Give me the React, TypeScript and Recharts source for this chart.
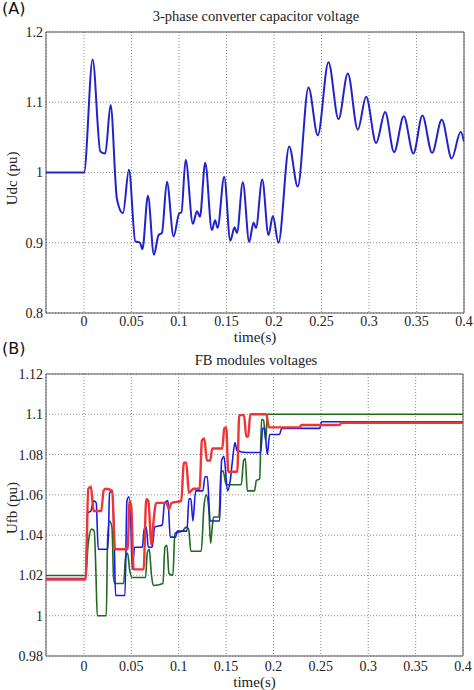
import React from "react";
import {
  LineChart,
  Line,
  XAxis,
  YAxis,
  CartesianGrid,
  ReferenceArea,
} from "recharts";

// time ticks shared by both panels
const timeTicks = [0, 0.05, 0.1, 0.15, 0.2, 0.25, 0.3, 0.35, 0.4];

// (A) 3-phase converter capacitor voltage
const udcTicks = [0.8, 0.9, 1, 1.1, 1.2];
const udcTime = [
  -0.04, 0, 0.0091, 0.0172, 0.0224, 0.028, 0.0347, 0.041, 0.0473, 0.054, 0.059,
  0.0615, 0.0673, 0.0736, 0.0785, 0.082, 0.0873, 0.0943, 0.1003, 0.1025, 0.107,
  0.1146, 0.1189, 0.122, 0.1276, 0.1346, 0.138, 0.1406, 0.1476, 0.154, 0.1585,
  0.161, 0.1672, 0.1739, 0.1785, 0.181, 0.1876, 0.1942, 0.1988, 0.2047, 0.216,
  0.225, 0.2363, 0.2461, 0.2573, 0.2679, 0.2777, 0.2882, 0.297, 0.3075, 0.317,
  0.3264, 0.3366, 0.3467, 0.3562, 0.3664, 0.3766, 0.3871, 0.3965, 0.4,
];
const udcValue = [
  1.0, 1.0, 1.161, 1.03, 1.027, 1.096, 0.962, 0.942, 1.004, 0.902, 0.9, 0.891,
  0.967, 0.883, 0.911, 0.914, 0.987, 0.909, 0.942, 0.943, 1.018, 0.927, 0.945,
  0.937, 1.014, 0.918, 0.932, 0.921, 0.994, 0.903, 0.922, 0.914, 0.986, 0.901,
  0.929, 0.921, 0.99, 0.911, 0.938, 0.9, 1.037, 0.98, 1.121, 1.053, 1.157, 1.076,
  1.141, 1.061, 1.108, 1.042, 1.086, 1.029, 1.08, 1.027, 1.081, 1.028, 1.075,
  1.02, 1.058, 1.044,
];

// (B) FB modules voltages
const ufbTicks = [0.98, 1, 1.02, 1.04, 1.06, 1.08, 1.1, 1.12];
const greenTime = [
  -0.04, 0.0018, 0.0046, 0.0081, 0.0109, 0.0127, 0.0141, 0.0236, 0.025, 0.0271,
  0.0296, 0.0313, 0.0327, 0.0419, 0.044, 0.0461, 0.0482, 0.0507, 0.0651, 0.0668,
  0.069, 0.0711, 0.0732, 0.0834, 0.0855, 0.0876, 0.0897, 0.0939, 0.096, 0.1038,
  0.108, 0.1105, 0.1129, 0.1238, 0.1266, 0.1291, 0.1316, 0.1337, 0.1354, 0.1368,
  0.1425, 0.1446, 0.1467, 0.1502, 0.166, 0.1685, 0.1703, 0.1724, 0.1801, 0.1819,
  0.1854, 0.1875, 0.1896, 0.1917, 0.1938, 0.4,
];
const greenValue = [
  1.02, 1.02, 1.036, 1.043, 1.042, 1.021, 1.0, 1.0, 1.038, 1.047, 1.044, 1.019,
  1.016, 1.016, 1.029, 1.031, 1.023, 1.019, 1.019, 1.031, 1.033, 1.021, 1.015,
  1.016, 1.034, 1.035, 1.021, 1.02, 1.041, 1.042, 1.044, 1.043, 1.032, 1.032,
  1.054, 1.06, 1.054, 1.036, 1.044, 1.049, 1.049, 1.071, 1.072, 1.065, 1.065,
  1.077, 1.078, 1.062, 1.062, 1.067, 1.068, 1.0975, 1.097, 1.087, 1.1, 1.1,
];
const blueTime = [
  -0.04, 0.0018, 0.0039, 0.0074, 0.0102, 0.013, 0.0151, 0.0253, 0.0271, 0.0299,
  0.032, 0.0334, 0.0433, 0.0454, 0.0475, 0.0496, 0.051, 0.0535, 0.0616, 0.0637,
  0.0658, 0.0679, 0.0721, 0.0746, 0.0827, 0.0851, 0.0887, 0.0911, 0.0967, 0.0985,
  0.1087, 0.1108, 0.1129, 0.115, 0.1179, 0.1256, 0.1277, 0.1302, 0.1333, 0.1432,
  0.1453, 0.1478, 0.1516, 0.1544, 0.1565, 0.1594, 0.1615, 0.1713, 0.1865, 0.1886,
  0.1907, 0.1935, 0.196, 0.2065, 0.2086, 0.2487, 0.2508, 0.4,
];
const blueValue = [
  1.0185, 1.0185, 1.051, 1.052, 1.057, 1.056, 1.033, 1.033, 1.061, 1.062, 1.038,
  1.01, 1.01, 1.057, 1.059, 1.044, 1.023, 1.034, 1.034, 1.043, 1.044, 1.034,
  1.034, 1.044, 1.045, 1.056, 1.057, 1.039, 1.039, 1.042, 1.042, 1.058, 1.058,
  1.047, 1.062, 1.062, 1.069, 1.069, 1.047, 1.047, 1.077, 1.079, 1.062, 1.067,
  1.076, 1.086, 1.082, 1.081, 1.081, 1.093, 1.093, 1.08, 1.09, 1.09, 1.093,
  1.093, 1.0963, 1.0963,
];
const redTime = [
  -0.04, 0.0018, 0.0046, 0.0074, 0.0102, 0.0183, 0.0208, 0.0229, 0.0299, 0.0327,
  0.0461, 0.0482, 0.05, 0.0524, 0.063, 0.0658, 0.0679, 0.0714, 0.0735, 0.0763,
  0.0869, 0.0897, 0.0925, 0.1027, 0.1055, 0.108, 0.1108, 0.1157, 0.1221, 0.1245,
  0.127, 0.1298, 0.1333, 0.1354, 0.146, 0.1481, 0.1502, 0.1523, 0.1618, 0.1639,
  0.1689, 0.1713, 0.1734, 0.1755, 0.1924, 0.1952, 0.2276, 0.2294, 0.2698, 0.2719,
  0.4,
];
const redValue = [
  1.018, 1.018, 1.063, 1.064, 1.052, 1.052, 1.062, 1.063, 1.062, 1.033, 1.033,
  1.057, 1.054, 1.023, 1.023, 1.058, 1.057, 1.035, 1.047, 1.056, 1.056, 1.053,
  1.056, 1.057, 1.076, 1.076, 1.061, 1.063, 1.063, 1.087, 1.088, 1.077, 1.077,
  1.083, 1.083, 1.093, 1.0935, 1.0715, 1.0715, 1.0996, 1.0996, 1.089, 1.089, 1.1,
  1.1, 1.0935, 1.0935, 1.0947, 1.0947, 1.0958, 1.0958,
];

const zip = (t: number[], v: number[]) => t.map((x, i) => ({ t: x, v: v[i] }));

const serif = "Liberation Serif, DejaVu Serif, serif";
const tickStyle = { fontFamily: serif, fontSize: 14, fill: "#222" };
const fmt = (n: number) => String(n);

// rotated y-axis title
const yTitle = (txt: string, shift: number) => (props: any) => {
  const vb = props.viewBox || { y: 0, height: 0 };
  const cx = 12;
  const cy = vb.y + vb.height / 2 + shift;
  return (
    <text
      x={cx}
      y={cy}
      transform={`rotate(-90 ${cx} ${cy})`}
      textAnchor="middle"
      dominantBaseline="central"
      fontFamily={serif}
      fontSize={15}
      fill="#222"
    >
      {txt}
    </text>
  );
};

const panelTag: React.CSSProperties = {
  position: "absolute",
  left: 2,
  fontFamily: "'DejaVu Sans', sans-serif",
  fontSize: 16,
  color: "#111",
  lineHeight: "18px",
};
const titleStyle: React.CSSProperties = {
  position: "absolute",
  left: 46,
  width: 420,
  textAlign: "center",
  fontFamily: serif,
  fontSize: 14.5,
  color: "#222",
  lineHeight: "16px",
};

const App = () => {
  return (
    <div
      style={{
        position: "absolute",
        left: 0,
        top: 0,
        width: 474,
        height: 690,
        background: "#fff",
        overflow: "hidden",
      }}
    >
      {/* panel A */}
      <div style={{ position: "absolute", left: 0, top: 0 }}>
        <LineChart width={474} height={350} margin={{ top: 32, right: 10, left: 0, bottom: 0 }}>
          <CartesianGrid stroke="#8a8a8a" strokeDasharray="1 2" />
          <XAxis
            dataKey="t"
            type="number"
            domain={[-0.04, 0.4]}
            ticks={timeTicks}
            tickFormatter={fmt}
            allowDataOverflow
            height={37}
            tickLine={false}
            axisLine={false}
            tickSize={0}
            tickMargin={3}
            tick={tickStyle}
            label={{ value: "time(s)", position: "insideBottom", offset: 8, fontFamily: serif, fontSize: 15, fill: "#222" }}
          />
          <YAxis
            type="number"
            domain={[0.8, 1.2]}
            ticks={udcTicks}
            tickFormatter={fmt}
            allowDataOverflow
            width={46}
            tickLine={false}
            axisLine={false}
            tickSize={0}
            tickMargin={3}
            tick={tickStyle}
            label={{ content: yTitle("Udc (pu)", 6) }}
          />
          <ReferenceArea x1={-0.04} x2={0.4} y1={0.8} y2={1.2} fill="none" stroke="#555" strokeWidth={1} />
          <Line
            data={zip(udcTime, udcValue)}
            dataKey="v"
            type="monotone"
            stroke="#2222cc"
            strokeWidth={2}
            dot={false}
            isAnimationActive={false}
          />
        </LineChart>
      </div>

      {/* panel B */}
      <div style={{ position: "absolute", left: 0, top: 340 }}>
        <LineChart width={474} height={350} margin={{ top: 34, right: 11, left: 0, bottom: 0 }}>
          <CartesianGrid stroke="#8a8a8a" strokeDasharray="1 2" />
          <XAxis
            dataKey="t"
            type="number"
            domain={[-0.04, 0.4]}
            ticks={timeTicks}
            tickFormatter={fmt}
            allowDataOverflow
            height={34}
            tickLine={false}
            axisLine={false}
            tickSize={0}
            tickMargin={5}
            tick={tickStyle}
            label={{ value: "time(s)", position: "insideBottom", offset: 3, fontFamily: serif, fontSize: 15, fill: "#222" }}
          />
          <YAxis
            type="number"
            domain={[0.98, 1.12]}
            ticks={ufbTicks}
            tickFormatter={fmt}
            allowDataOverflow
            width={46}
            tickLine={false}
            axisLine={false}
            tickSize={0}
            tickMargin={3}
            tick={tickStyle}
            label={{ content: yTitle("Ufb (pu)", -7) }}
          />
          <ReferenceArea x1={-0.04} x2={0.4} y1={0.98} y2={1.12} fill="none" stroke="#555" strokeWidth={1} />
          <Line
            data={zip(greenTime, greenValue)}
            dataKey="v"
            type="monotone"
            stroke="#1f6a1f"
            strokeWidth={1.6}
            dot={false}
            isAnimationActive={false}
          />
          <Line
            data={zip(blueTime, blueValue)}
            dataKey="v"
            type="monotone"
            stroke="#1c1ce0"
            strokeWidth={1.6}
            dot={false}
            isAnimationActive={false}
          />
          <Line
            data={zip(redTime, redValue)}
            dataKey="v"
            type="monotone"
            stroke="#f03434"
            strokeWidth={2.4}
            dot={false}
            isAnimationActive={false}
          />
        </LineChart>
      </div>

      <div style={{ ...panelTag, top: 0 }}>(A)</div>
      <div style={{ ...titleStyle, top: 8 }}>3-phase converter capacitor voltage</div>
      <div style={{ ...panelTag, top: 340 }}>(B)</div>
      <div style={{ ...titleStyle, top: 352 }}>FB modules voltages</div>
    </div>
  );
};

export default App;
